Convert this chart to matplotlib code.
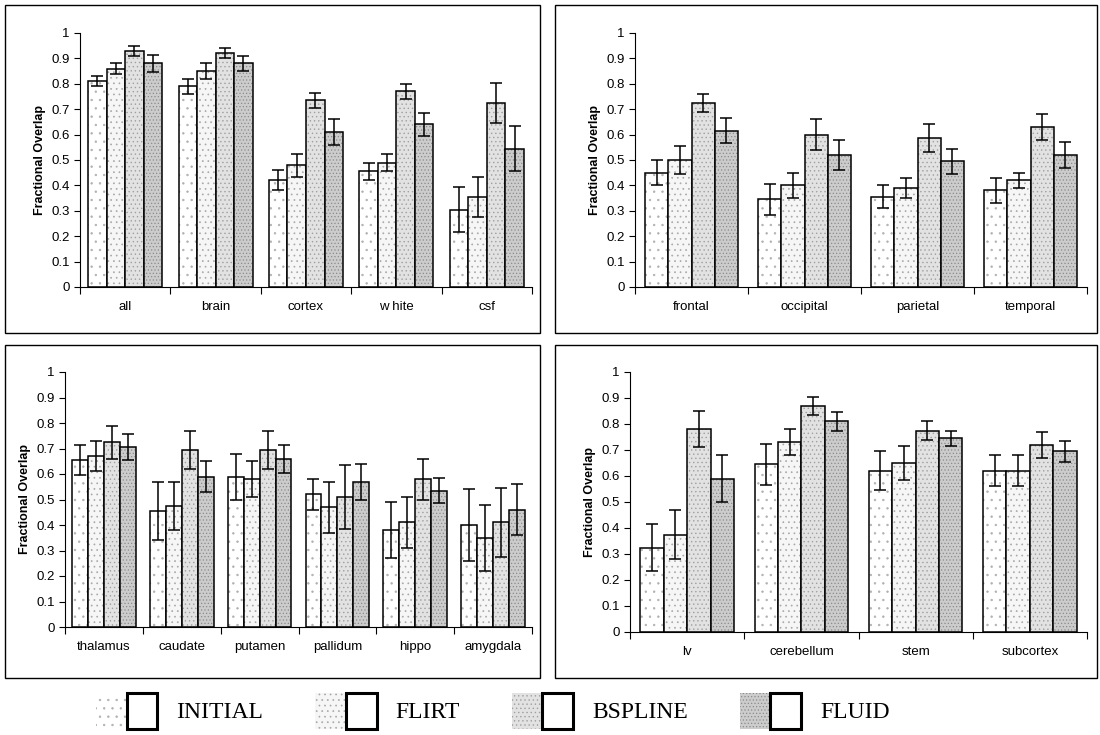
import numpy as np
import matplotlib
matplotlib.use("Agg")
import matplotlib.pyplot as plt
import matplotlib.patches as mpatches
from matplotlib.legend_handler import HandlerTuple

plt.rcParams["font.family"] = ["Liberation Sans", "DejaVu Sans"]
plt.rcParams["hatch.linewidth"] = 0.5

methods = ["INITIAL", "FLIRT", "BSPLINE", "FLUID"]

cats_tl = ["all", "brain", "cortex", "w hite", "csf"]
mean_tl = [[0.81, 0.79, 0.42, 0.455, 0.305],
           [0.86, 0.85, 0.48, 0.49, 0.355],
           [0.93, 0.92, 0.735, 0.77, 0.725],
           [0.88, 0.88, 0.61, 0.64, 0.545]]
err_tl = [[0.02, 0.03, 0.04, 0.035, 0.09],
          [0.02, 0.03, 0.045, 0.035, 0.08],
          [0.02, 0.02, 0.03, 0.03, 0.08],
          [0.035, 0.03, 0.05, 0.045, 0.09]]

cats_tr = ["frontal", "occipital", "parietal", "temporal"]
mean_tr = [[0.45, 0.345, 0.355, 0.38],
           [0.50, 0.40, 0.39, 0.42],
           [0.725, 0.60, 0.585, 0.63],
           [0.615, 0.52, 0.495, 0.52]]
err_tr = [[0.05, 0.06, 0.045, 0.05],
          [0.055, 0.05, 0.04, 0.03],
          [0.035, 0.06, 0.055, 0.05],
          [0.05, 0.06, 0.05, 0.05]]

cats_bl = ["thalamus", "caudate", "putamen", "pallidum", "hippo", "amygdala"]
mean_bl = [[0.655, 0.455, 0.59, 0.52, 0.38, 0.40],
           [0.67, 0.475, 0.58, 0.47, 0.41, 0.35],
           [0.725, 0.695, 0.695, 0.51, 0.58, 0.41],
           [0.705, 0.59, 0.66, 0.57, 0.535, 0.46]]
err_bl = [[0.06, 0.115, 0.09, 0.06, 0.11, 0.14],
          [0.06, 0.095, 0.07, 0.10, 0.10, 0.13],
          [0.065, 0.075, 0.075, 0.125, 0.08, 0.135],
          [0.05, 0.06, 0.055, 0.07, 0.05, 0.10]]

cats_br = ["lv", "cerebellum", "stem", "subcortex"]
mean_br = [[0.325, 0.645, 0.62, 0.62],
           [0.375, 0.73, 0.65, 0.62],
           [0.78, 0.87, 0.775, 0.72],
           [0.59, 0.81, 0.745, 0.695]]
err_br = [[0.09, 0.08, 0.075, 0.06],
          [0.095, 0.05, 0.065, 0.06],
          [0.07, 0.035, 0.035, 0.05],
          [0.09, 0.035, 0.03, 0.04]]

FACES = ["white", "#f6f6f6", "#e2e2e2", "#cccccc"]
HATCHES = ["..", "...", "....", "....."]
HCOL = ["#b0b0b0", "#a8a8a8", "#a0a0a0", "#8c8c8c"]

W, H = 1100, 735
fig = plt.figure(figsize=(W / 100, H / 100), dpi=100)


def frame(x0, y0, x1, y1):
    fig.patches.append(mpatches.Rectangle((x0 / W, 1 - y1 / H), (x1 - x0) / W, (y1 - y0) / H,
                                          transform=fig.transFigure, fill=False,
                                          edgecolor="black", linewidth=1))


def panel(box, cats, means, errs):
    x0, y0, x1, y1 = box
    ax = fig.add_axes([x0 / W, 1 - y1 / H, (x1 - x0) / W, (y1 - y0) / H])
    n = len(cats)
    x = np.arange(n)
    bw = 0.205
    for i in range(4):
        pos = x + (i - 1.5) * bw
        ax.bar(pos, means[i], bw, color=FACES[i], edgecolor=HCOL[i],
               linewidth=0, hatch=HATCHES[i])
        ax.bar(pos, means[i], bw, yerr=errs[i], fill=False,
               edgecolor="black", linewidth=1.1,
               error_kw=dict(ecolor="black", elinewidth=1.1, capsize=4, capthick=1.1))
    ax.set_xlim(-0.5, n - 0.5)
    ax.set_ylim(0, 1)
    ax.set_yticks(np.arange(0, 1.01, 0.1))
    ax.set_yticklabels(["0"] + [f"{v:.1f}" for v in np.arange(0.1, 0.95, 0.1)] + ["1"])
    ax.set_xticks(np.arange(-0.5, n, 1.0))
    ax.set_xticklabels([])
    ax.set_xticks(x, minor=True)
    ax.set_xticklabels(cats, minor=True)
    ax.tick_params(axis="x", which="minor", length=0, pad=10, labelsize=9.5)
    ax.tick_params(axis="x", which="major", length=5, direction="out")
    ax.tick_params(axis="y", labelsize=9.5, length=4)
    ax.spines["top"].set_visible(False)
    ax.spines["right"].set_visible(False)
    ax.set_ylabel("Fractional Overlap", fontsize=9, fontweight="bold")
    return ax


frame(5, 5, 540, 333)
frame(555, 5, 1097, 333)
frame(5, 345, 540, 678)
frame(555, 345, 1097, 678)

panel((80, 33, 532, 287), cats_tl, mean_tl, err_tl)
panel((635, 33, 1087, 287), cats_tr, mean_tr, err_tr)
panel((65, 372, 532, 627), cats_bl, mean_bl, err_bl)
panel((630, 372, 1087, 632), cats_br, mean_br, err_br)

handles = [(mpatches.Patch(facecolor=FACES[i], edgecolor=HCOL[i], hatch=HATCHES[i], linewidth=0),
            mpatches.Patch(fill=False, edgecolor="black", linewidth=2.2))
           for i in range(4)]
fig.legend(handles=handles, labels=methods, loc="center", bbox_to_anchor=(0.448, 1 - 711 / H), ncol=4,
           frameon=False, handlelength=2.6, handleheight=2.0, columnspacing=2.2,
           handler_map={tuple: HandlerTuple(ndivide=None, pad=0)},
           prop={"family": "Liberation Serif", "size": 17})

fig.savefig("out.png", dpi=100)
